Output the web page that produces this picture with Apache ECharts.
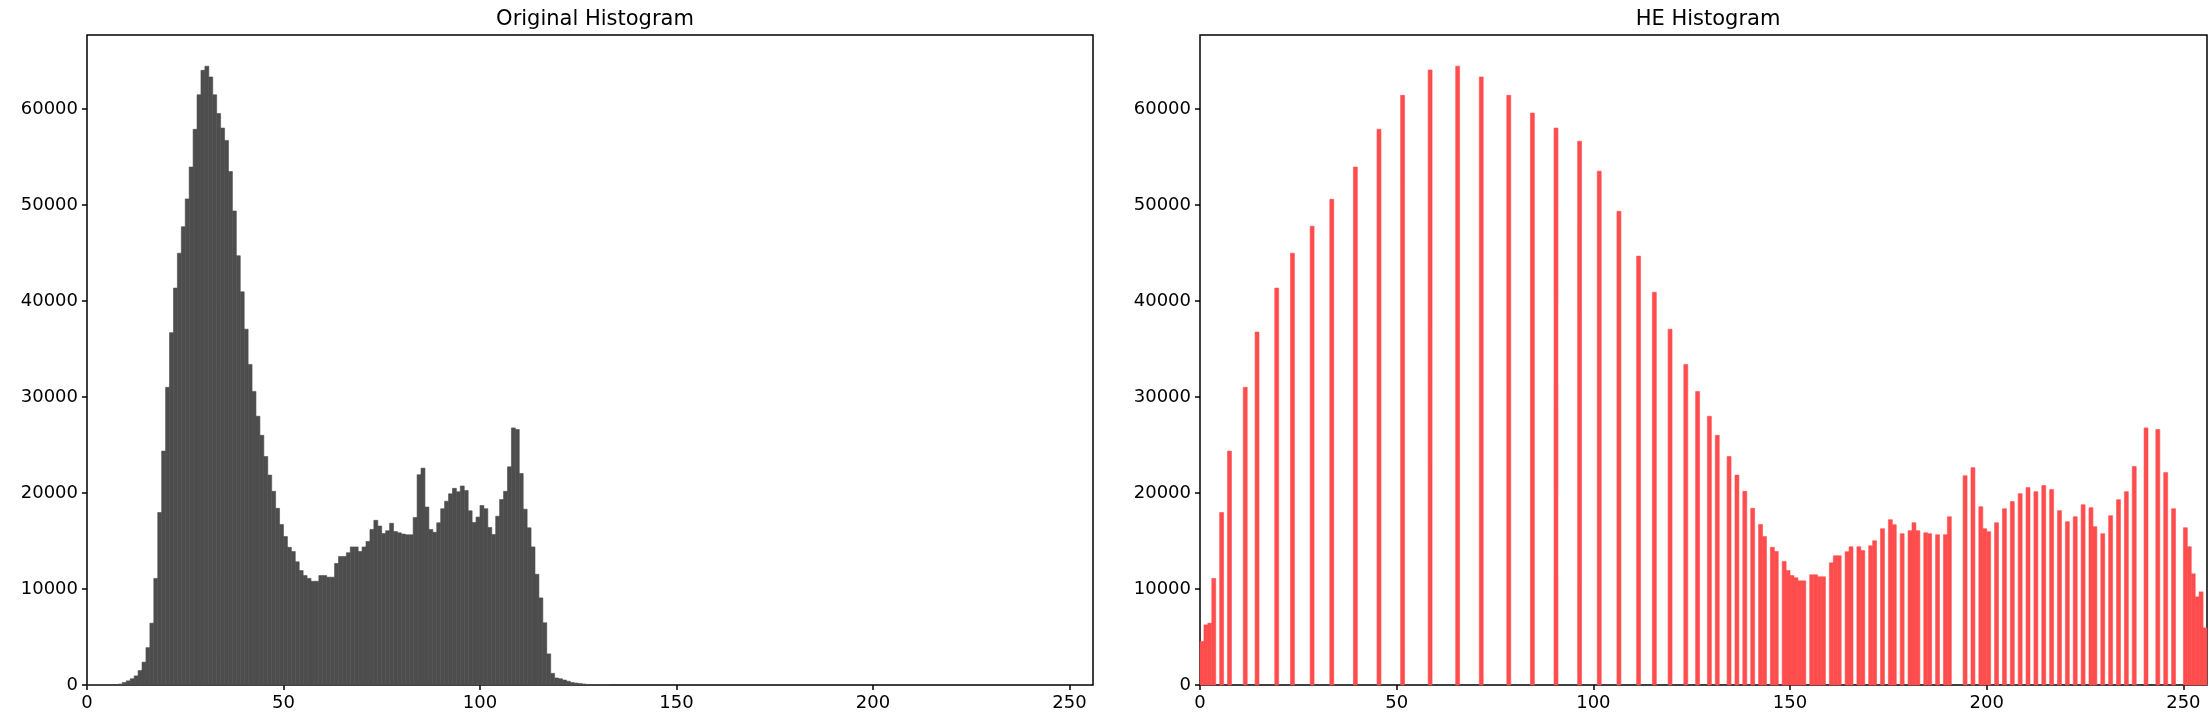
<!DOCTYPE html>
<html>
<head>
<meta charset="utf-8">
<script src="https://cdn.jsdelivr.net/npm/echarts@6/dist/echarts.min.js"></script>
<style>
  html, body {margin: 0; padding: 0; background: #fff;}
  #main {width: 2211px; height: 722px;}
</style>
</head>
<body>
<div id="main"></div>
<script>
// original histogram, counts per grey level (0..132), everything above is 0
const origCounts = [
  0, 0, 0, 0, 0, 0, 0, 0, 100, 260,
  430, 650, 950, 1500, 2380, 3890, 6440, 11100, 17970, 24360,
  31000, 36700, 41340, 44970, 47730, 50630, 53950, 57880, 61470, 64020,
  64450, 63330, 61470, 59520, 58010, 56720, 53480, 49370, 44710, 40950,
  37060, 33390, 30580, 27990, 26000, 23800, 21860, 20170, 18400, 16720,
  15460, 14340, 13910, 12830, 11920, 11400, 11100, 10800, 10800, 11400,
  11400, 11230, 11230, 12660, 13390, 13390, 13780, 14380, 14380, 13910,
  14380, 14950, 16200, 17150, 16550, 15770, 16070, 16850, 15980, 15850,
  15720, 15640, 15640, 17450, 21900, 22590, 18530, 16200, 15900, 16890,
  18360, 19140, 19910, 20480, 20130, 20730, 20260, 18140, 16930, 17490,
  18700, 18360, 16410, 15680, 17580, 19310, 20170, 22720, 26780, 26610,
  22030, 18310, 16370, 14380, 11530, 9070, 6480, 3240, 1210, 730,
  650, 520, 390, 260, 200, 150, 100, 60, 40, 30,
  20, 10, 5
];

// equalized histogram: only the occupied grey levels
const heBins = [
  0, 1, 2, 3, 5, 7, 11, 14, 19, 23, 28, 33, 39, 45, 51, 58, 65, 71, 78, 84,
  90, 96, 101, 106, 111, 115, 119, 123, 126, 129, 131, 134, 136, 138, 140, 142, 143, 145, 146, 148,
  149, 150, 151, 152, 153, 155, 156, 157, 158, 160, 161, 162, 164, 165, 167, 168, 170, 171, 173, 175,
  176, 178, 180, 181, 182, 184, 185, 187, 189, 190, 194, 196, 198, 199, 200, 202, 204, 206, 208, 210,
  212, 214, 216, 218, 220, 222, 224, 226, 227, 229, 231, 233, 235, 237, 240, 243, 245, 247, 250, 251,
  252, 253, 254, 255
];
const heCounts = [
  4540, 6260, 6440, 11100, 17970, 24360, 31000, 36760, 41340, 44970, 47780, 50580, 53950, 57880, 61420, 64060, 64450, 63330, 61420, 59570,
  58010, 56630, 53520, 49330, 44670, 40910, 37060, 33390, 30580, 27990, 26000, 23800, 21860, 20170, 18400, 16720, 15460, 14340, 13910, 12870,
  11920, 11400, 11170, 10850, 10850, 11480, 11480, 11270, 11270, 12730, 13460, 13460, 13880, 14400, 14400, 14000, 14500, 15030, 16280, 17220,
  16700, 15760, 16070, 16900, 16070, 15860, 15760, 15650, 15650, 17530, 21800, 22640, 18570, 16280, 15970, 16900, 18360, 19100, 19930, 20560,
  20140, 20770, 20350, 18160, 17010, 17530, 18780, 18470, 16490, 15760, 17630, 19300, 20140, 22750, 26780, 26610, 22120, 18360, 16380, 14400,
  11580, 9180, 9700, 5950
];

const xTicks = [0, 50, 100, 150, 200, 250];
const yTicks = [0, 10000, 20000, 30000, 40000, 50000, 60000];
const titles = ['Original Histogram', 'HE Histogram'];

const font = 'DejaVu Sans';

// one rect per bin [i, i+1) through the axis scales
function binRect(params, api) {
  const a = api.coord([api.value(0), api.value(1)]);
  const b = api.coord([api.value(0) + 1, 0]);
  const c = api.visual('color');
  return {
    type: 'rect',
    shape: {x: a[0], y: a[1], width: b[0] - a[0], height: b[1] - a[1]},
    style: {fill: c, stroke: c, lineWidth: 0.6}
  };
}

const grids = [
  {left: 87, right: 1118, top: 35, bottom: 37},
  {left: 1200, right: 4, top: 35, bottom: 37}
];

const xAxis = grids.map((g, i) => ({
  gridIndex: i, type: 'value', min: 0, max: 256, interval: 50,
  splitLine: {show: false},
  axisLine: {show: false},
  axisTick: {show: true, length: 5, lineStyle: {color: '#000', width: 1.5},
    customValues: xTicks},
  axisLabel: {color: '#000', fontFamily: font, fontSize: 18, margin: 9,
    customValues: xTicks}
}));

const yAxis = grids.map((g, i) => ({
  gridIndex: i, type: 'value', min: 0, max: 67700,
  splitLine: {show: false},
  axisLine: {show: false},
  axisTick: {show: true, length: 5, lineStyle: {color: '#000', width: 1.5},
    customValues: yTicks},
  axisLabel: {color: '#000', fontFamily: font, fontSize: 18, margin: 9,
    customValues: yTicks, formatter: v => String(v)}
}));

const chart = echarts.init(document.getElementById('main'), null, {renderer: 'canvas'});
chart.setOption({
  backgroundColor: '#fff',
  animation: false,
  title: [
    {text: titles[0], left: 590, top: 4, textAlign: 'center',
      textStyle: {fontFamily: font, fontSize: 21, fontWeight: 'normal', color: '#000'}},
    {text: titles[1], left: 1703, top: 4, textAlign: 'center',
      textStyle: {fontFamily: font, fontSize: 21, fontWeight: 'normal', color: '#000'}}
  ],
  grid: grids.map(g => Object.assign({show: true, borderColor: '#000', borderWidth: 1.5,
    backgroundColor: 'transparent'}, g)),
  xAxis: xAxis,
  yAxis: yAxis,
  series: [
    {
      type: 'custom', xAxisIndex: 0, yAxisIndex: 0,
      itemStyle: {color: '#4d4d4d'},
      renderItem: binRect,
      data: origCounts.map((v, i) => [i, v])
    },
    {
      type: 'custom', xAxisIndex: 1, yAxisIndex: 1,
      itemStyle: {color: '#ff4d4d'},
      renderItem: binRect,
      data: heBins.map((b, i) => [b, heCounts[i]])
    }
  ]
});
</script>
</body>
</html>
